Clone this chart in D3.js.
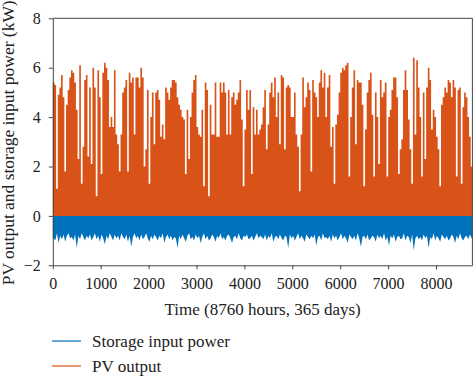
<!DOCTYPE html>
<html>
<head>
<meta charset="utf-8">
<script src="https://cdn.jsdelivr.net/npm/d3@7"></script>
<style>
  body { margin: 0; background: #fff; }
  text { font-family: "Liberation Serif", "Times New Roman", serif; fill: #222; }
</style>
</head>
<body>
<div id="chart"></div>
<script>
// peak PV output per time bin (kW) left to right
const pvPeak = [
  5.4,5.3,1.1,4.9,5.2,5.7,4.8,1.8,4.5,5.1,5.6,5.9,5.8,5.4,4.3,2.3,6.1,1.3,2.8,5.5,
  5.7,2.4,5.2,2.1,6.0,5.2,0.8,5.9,4.8,1.7,5.8,6.2,6.0,5.5,3.6,4.0,3.6,5.9,3.3,2.9,
  1.8,3.3,5.0,5.2,5.5,1.8,5.8,5.4,5.6,3.3,5.6,5.6,5.2,6.0,5.6,2.0,2.7,5.1,1.3,4.0,
  5.0,2.9,5.0,5.1,4.7,3.2,3.7,3.1,5.2,5.0,4.7,5.2,5.5,5.5,5.4,4.8,4.5,4.3,4.0,3.9,
  1.7,4.3,2.3,4.0,5.0,5.5,5.7,3.6,3.3,3.2,4.3,1.2,5.4,5.1,0.8,4.5,3.3,3.3,5.4,3.2,
  3.2,5.4,5.0,5.4,5.0,3.3,5.1,3.3,4.8,5.0,4.5,4.7,5.0,5.5,3.9,1.2,3.5,5.1,4.3,5.1,
  1.7,4.4,3.3,4.3,3.3,3.5,
  3.7,4.4,5.1,2.7,3.7,5.0,5.4,4.8,5.6,4.0,5.0,2.9,5.7,5.6,2.7,5.2,5.3,5.2,4.0,4.0,
  5.0,3.3,2.8,1.0,3.3,5.6,4.4,4.8,5.4,5.1,1.8,5.5,5.0,4.8,4.0,5.4,5.9,5.2,5.8,4.0,
  5.2,5.7,2.8,3.6,1.3,3.7,4.1,5.0,5.8,6.0,5.9,6.1,6.2,1.6,4.0,5.2,5.9,2.9,5.5,5.4,
  5.4,4.5,1.2,3.5,5.0,5.5,5.8,4.1,1.6,5.0,4.0,2.1,5.5,4.8,5.0,5.4,1.6,4.0,4.3,5.1,
  5.6,5.6,4.8,1.7,2.7,3.1,5.1,5.9,5.1,3.9,2.7,1.3,6.4,3.3,6.3,5.2,4.0,1.6,5.0,2.3,
  5.2,6.0,5.5,3.5,4.3,4.0,3.2,2.7,1.2,4.5,4.8,5.2,5.0,5.5,5.4,4.8,5.5,5.2,1.6,5.1,
  5.2,1.3,4.4,5.0,4.8,4.0,3.2,2.0
];

// lowest storage input power per time bin (kW)
const storageMin = [
  -0.9,-1.0,-0.7,-1.1,-0.8,-0.95,-0.75,-1.05,-0.8,-0.7,-0.9,-0.85,-1.0,-0.75,-1.3,-0.8,-0.95,-0.7,-0.85,-1.0,
  -0.8,-0.9,-0.75,-1.0,-0.85,-0.7,-0.95,-0.8,-1.05,-0.75,-0.9,-1.15,-0.8,-0.95,-0.7,-0.85,-1.0,-0.75,-0.9,-0.8,
  -1.0,-0.7,-0.85,-0.95,-0.75,-1.05,-0.8,-1.25,-0.85,-0.7,-0.9,-0.8,-1.0,-0.75,-0.95,-0.85,-0.7,-0.9,-1.05,-0.8,
  -0.95,-0.75,-0.85,-1.0,-0.8,-0.9,-0.7,-1.1,-0.85,-0.75,-0.95,-0.8,-1.0,-0.85,-0.9,-1.3,-0.8,-0.95,-0.75,-0.9,
  -1.05,-0.8,-0.7,-0.95,-0.85,-1.0,-0.75,-0.9,-0.8,-1.1,-0.85,-0.7,-0.95,-0.8,-1.0,-0.9,-0.75,-0.85,-1.05,-0.8,
  -0.9,-0.7,-0.95,-0.85,-1.0,-0.8,-0.75,-0.9,-1.1,-0.85,-0.8,-0.95,-0.7,-0.9,-1.0,-0.8,-0.85,-0.75,-0.95,-0.9,
  -0.8,-1.0,-0.85,-0.7,-0.9,-0.8,
  -0.85,-0.95,-0.75,-1.0,-0.8,-0.9,-0.7,-1.05,-0.85,-0.8,-0.95,-0.75,-0.9,-1.0,-0.8,-0.85,-1.3,-0.75,-0.9,-0.8,
  -1.0,-0.85,-0.7,-0.95,-0.8,-0.9,-1.05,-0.75,-0.85,-0.95,-0.8,-0.9,-0.75,-1.2,-0.85,-0.8,-1.0,-0.7,-0.9,-0.85,
  -0.95,-0.8,-1.05,-0.75,-0.9,-0.8,-1.0,-0.85,-0.7,-0.95,-0.8,-0.9,-1.1,-0.75,-0.85,-0.95,-0.8,-1.0,-0.7,-0.9,
  -1.25,-0.85,-0.8,-0.95,-0.75,-1.0,-0.9,-0.8,-0.85,-1.05,-0.75,-0.9,-0.8,-0.95,-0.7,-1.0,-0.85,-1.2,-0.8,-0.9,
  -0.75,-1.05,-0.85,-0.8,-0.95,-0.9,-0.7,-1.0,-0.8,-0.85,-1.1,-0.75,-1.4,-0.9,-0.8,-0.95,-0.85,-1.0,-0.75,-0.9,
  -0.8,-1.3,-0.85,-0.95,-0.7,-1.0,-0.8,-0.9,-1.05,-0.75,-0.85,-0.95,-0.8,-1.0,-0.9,-0.75,-0.85,-1.1,-0.8,-0.95,
  -0.7,-0.9,-1.0,-0.85,-0.8,-0.95,-0.75,-0.9
];

const xTicks = [0, 1000, 2000, 3000, 4000, 5000, 6000, 7000, 8000];
const yTicks = [-2, 0, 2, 4, 6, 8];
const totalHours = 8760;
const seriesNames = ["Storage input power", "PV output"];
const seriesColors = ["#0072BD", "#D95319"];

let margin = { top: 18.3, left: 52.8, right: 1.6, bottom: 111.7 },
    fullW = 474, fullH = 377,
    width = fullW - margin.left - margin.right,
    height = fullH - margin.top - margin.bottom;

let svg = d3.select("#chart").append("svg")
  .attr("width", fullW)
  .attr("height", fullH);

let g = svg.append("g")
  .attr("transform", `translate(${margin.left},${margin.top})`);

let x = d3.scaleLinear().domain([0, totalHours]).range([0, width]);
let y = d3.scaleLinear().domain([-2, 8]).range([height, 0]);

// spread the bins evenly over the year
function binned(values) {
  let step = totalHours / values.length;
  return values.map((v, i) => ({ t: (i + 0.5) * step, v: v }));
}

let pvData = binned(pvPeak);
pvData = [{ t: 0, v: pvPeak[0] }, ...pvData, { t: totalHours, v: pvPeak[pvPeak.length - 1] }];
let stData = binned(storageMin);
stData = [{ t: 0, v: storageMin[0] }, ...stData, { t: totalHours, v: storageMin[storageMin.length - 1] }];

let stepArea = d3.area()
  .curve(d3.curveStep)
  .x(d => x(d.t))
  .y0(y(0))
  .y1(d => y(d.v));

let lineArea = d3.area()
  .x(d => x(d.t))
  .y0(y(0))
  .y1(d => y(d.v));

g.append("path")
  .datum(stData)
  .attr("fill", seriesColors[0])
  .attr("d", lineArea);

g.append("path")
  .datum(pvData)
  .attr("fill", seriesColors[1])
  .attr("d", stepArea);

// frame
g.append("path")
  .attr("fill", "none")
  .attr("stroke", "#444")
  .attr("stroke-width", 1)
  .attr("d", `M0,0H${width}V${height}`);

let xAxis = g.append("g")
  .attr("transform", `translate(0,${height})`)
  .call(d3.axisBottom(x).tickValues(xTicks).tickFormat(d3.format("d")).tickSize(4).tickSizeOuter(0).tickPadding(8));

let yAxis = g.append("g")
  .call(d3.axisLeft(y).tickValues(yTicks).tickSize(4).tickSizeOuter(0).tickPadding(8));

[xAxis, yAxis].forEach(a => {
  a.select(".domain").attr("stroke", "#444");
  a.selectAll(".tick line").attr("stroke", "#444");
  a.selectAll(".tick text")
    .attr("font-family", "'Liberation Serif', serif")
    .attr("font-size", 16)
    .attr("fill", "#222");
});

svg.append("text")
  .attr("x", margin.left + width / 2)
  .attr("y", 315)
  .attr("text-anchor", "middle")
  .attr("font-size", 17)
  .text("Time (8760 hours, 365 days)");

svg.append("text")
  .attr("transform", `translate(14,${margin.top + height / 2 + 1}) rotate(-90)`)
  .attr("text-anchor", "middle")
  .attr("font-size", 16)
  .attr("textLength", 285)
  .attr("lengthAdjust", "spacingAndGlyphs")
  .text("PV output and storage input power (kW)");

// legend below the plot
let legend = svg.append("g")
  .selectAll("g")
  .data(seriesNames)
  .join("g")
    .attr("transform", (d, i) => `translate(52,${341 + i * 25})`);

legend.append("line")
  .attr("x1", 0).attr("x2", 29)
  .attr("stroke", (d, i) => seriesColors[i])
  .attr("stroke-width", 1.2);

legend.append("text")
  .attr("x", 40)
  .attr("dy", "0.35em")
  .attr("font-size", 17)
  .text(d => d);
</script>
</body>
</html>
